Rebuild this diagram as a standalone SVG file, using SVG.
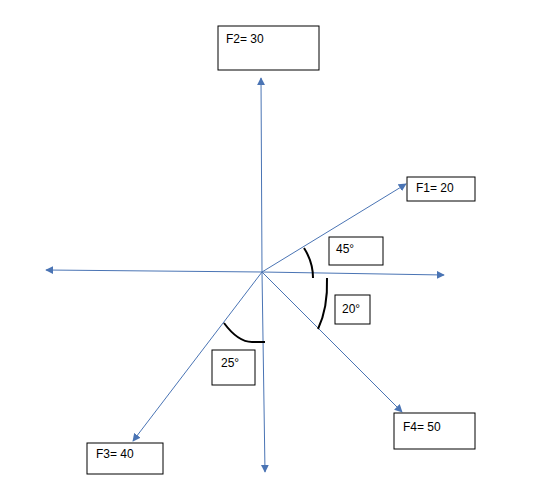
<svg xmlns="http://www.w3.org/2000/svg" width="535" height="495" viewBox="0 0 535 495">
<style>
.box{fill:#fff;stroke:#000;stroke-width:1}
.lbl{font-family:"Liberation Sans",Arial,sans-serif;font-size:12px;fill:#000}
.ax{stroke:#4a74b4;stroke-width:1;fill:none}
.arc{stroke:#000;stroke-width:2;fill:none}
</style>
<defs>
<marker id="ah" viewBox="0 0 10 10" refX="9" refY="5" markerWidth="8" markerHeight="8" markerUnits="userSpaceOnUse" orient="auto">
<path d="M0,0 L10,5 L0,10 Z" fill="#4a74b4"/>
</marker>
</defs>
<rect width="535" height="495" fill="#fff"/>
<g id="connectors">
<line class="ax" x1="262" y1="272" x2="261" y2="78" marker-end="url(#ah)"/>
<line class="ax" x1="262" y1="272" x2="265" y2="472" marker-end="url(#ah)"/>
<line class="ax" x1="262" y1="272" x2="46" y2="270" marker-end="url(#ah)"/>
<line class="ax" x1="262" y1="272" x2="444" y2="275" marker-end="url(#ah)"/>
<line class="ax" x1="262" y1="272" x2="406" y2="184" marker-end="url(#ah)"/>
<line class="ax" x1="262" y1="272" x2="133" y2="441" marker-end="url(#ah)"/>
<line class="ax" x1="262" y1="272" x2="402" y2="412" marker-end="url(#ah)"/>
<path class="arc" d="M304,248 Q313,262 313,278"/>
<path class="arc" d="M327,278 Q328,308 318,329"/>
<path class="arc" d="M224,323 Q238,342 252,342 L265,342"/>
</g>
<g id="F2"><rect class="box" x="218" y="26" width="101" height="44"/><text class="lbl" x="226" y="43">F2= 30</text></g>
<g id="F1"><rect class="box" x="407" y="177" width="68" height="24"/><text class="lbl" x="416" y="192">F1= 20</text></g>
<g id="a45"><rect class="box" x="329" y="237" width="54" height="28"/><text class="lbl" x="336" y="253">45°</text></g>
<g id="a20"><rect class="box" x="335" y="295" width="35" height="29"/><text class="lbl" x="342" y="313">20°</text></g>
<g id="a25"><rect class="box" x="212" y="350" width="43" height="35"/><text class="lbl" x="221" y="367">25°</text></g>
<g id="F3"><rect class="box" x="87" y="443" width="76" height="31"/><text class="lbl" x="96" y="458">F3= 40</text></g>
<g id="F4"><rect class="box" x="394" y="413" width="81" height="36"/><text class="lbl" x="403" y="431">F4= 50</text></g>
</svg>
